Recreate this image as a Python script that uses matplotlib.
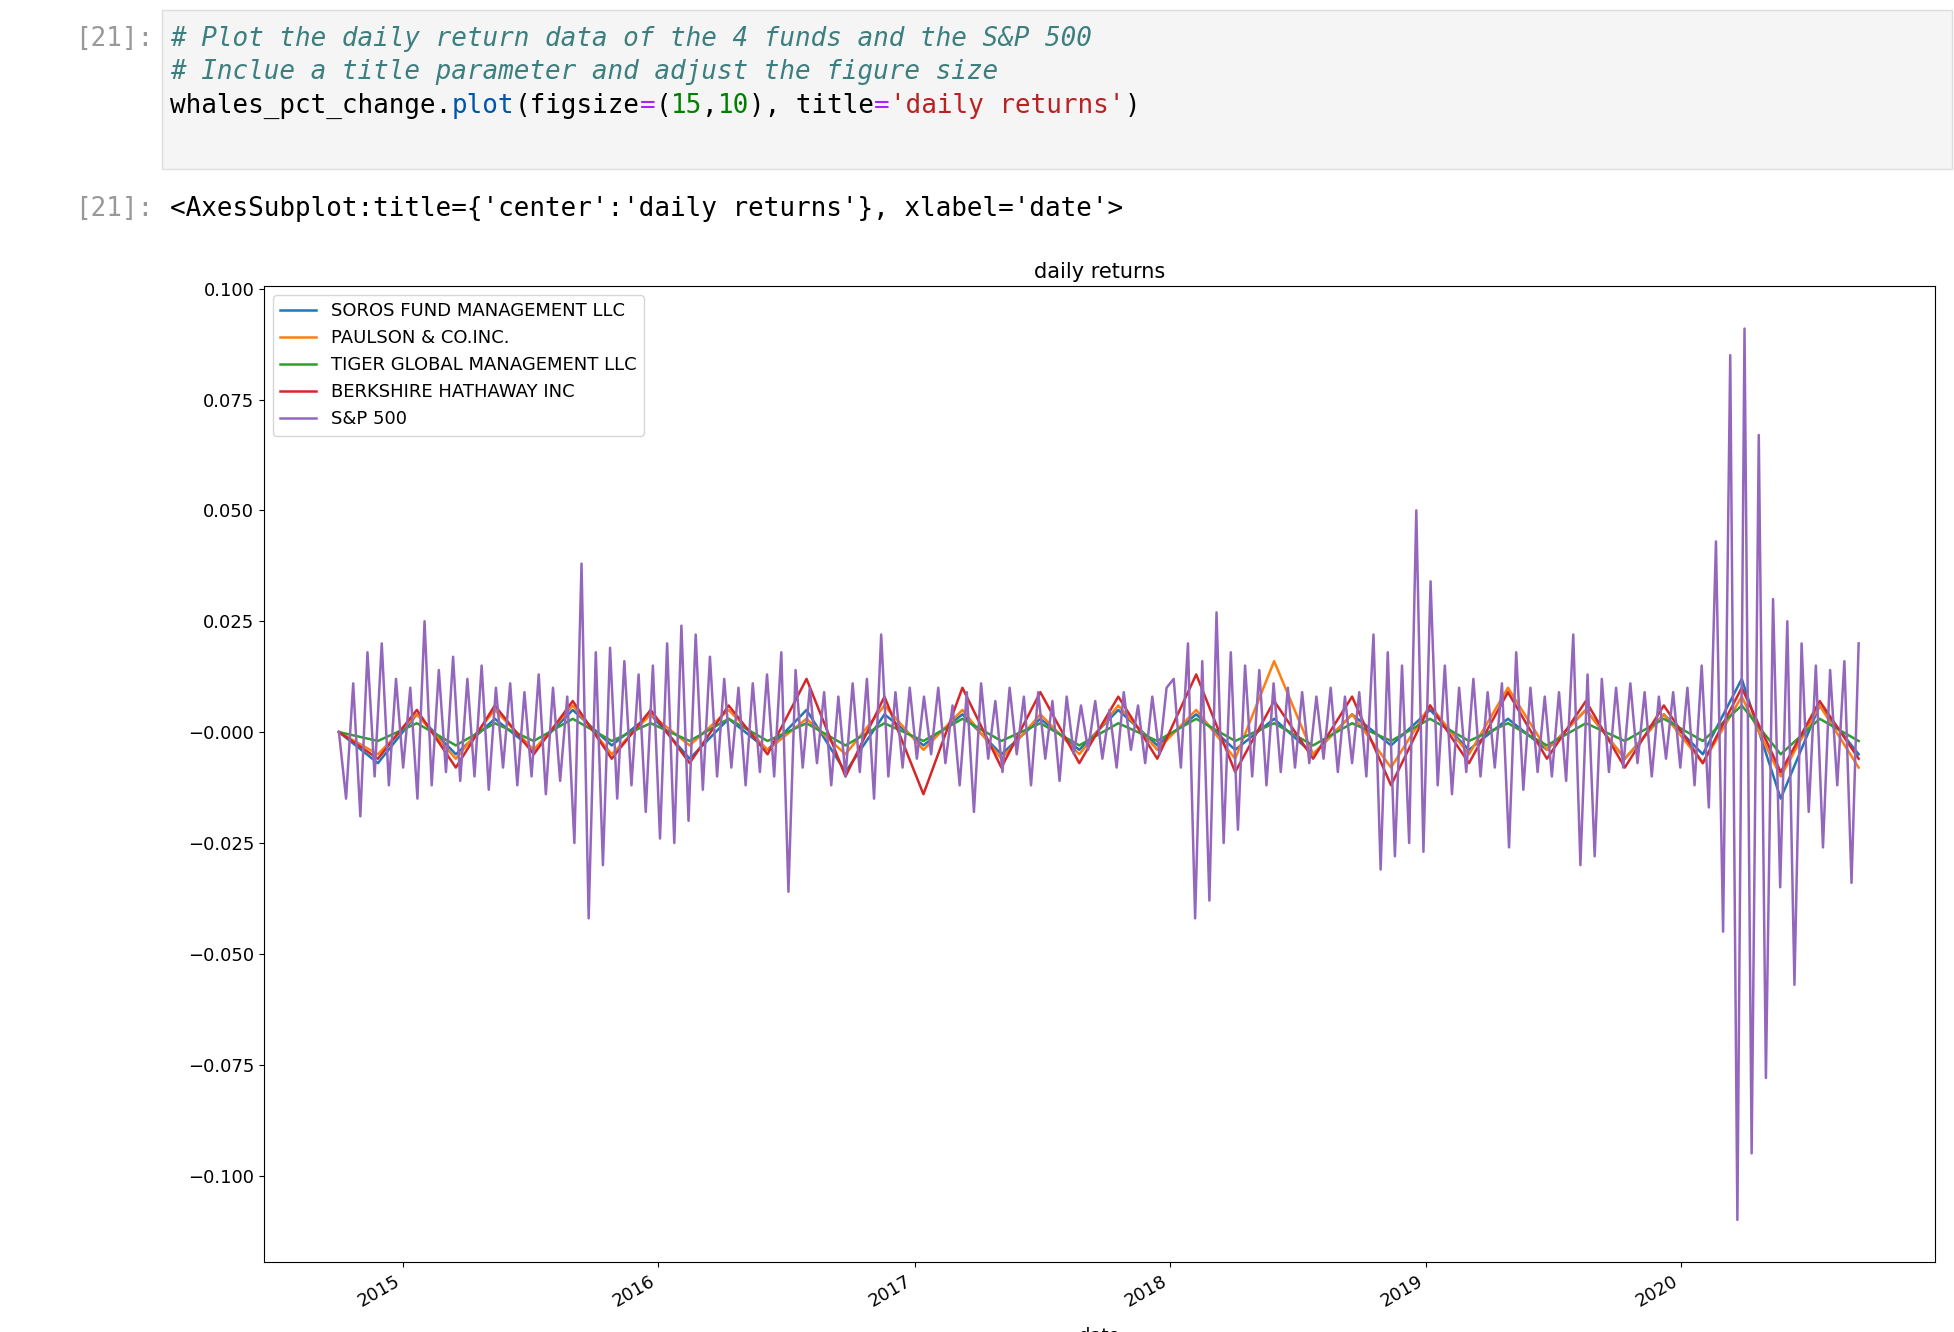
import numpy as np
import pandas as pd
import matplotlib
matplotlib.use("Agg")
import matplotlib.pyplot as plt

# --- data (coarse) ---------------------------------------------------
start, end = "2014-10-02", "2020-09-10"

sp500 = [0.000, -0.015, 0.011, -0.019, 0.018, -0.010, 0.020, -0.012, 0.012,
         -0.008, 0.010, -0.015, 0.025, -0.012, 0.014, -0.009, 0.017, -0.011, 0.012, -0.010, 0.015,
         -0.013, 0.010, -0.008, 0.011, -0.012, 0.009, -0.010, 0.013, -0.014, 0.010, -0.011, 0.008,
         -0.025, 0.038, -0.042, 0.018, -0.030, 0.019, -0.015, 0.016, -0.012, 0.013, -0.018, 0.015,
         -0.024, 0.020, -0.025, 0.024, -0.020, 0.022, -0.013, 0.017, -0.010, 0.012, -0.008, 0.010,
         -0.012, 0.011, -0.009, 0.013, -0.010, 0.018, -0.036, 0.014, -0.008, 0.010, -0.007, 0.009,
         -0.012, 0.008, -0.010, 0.011, -0.009, 0.012, -0.015, 0.022, -0.010, 0.009, -0.008, 0.010,
         -0.006, 0.008, -0.005, 0.010, -0.007, 0.006, -0.012, 0.009, -0.018, 0.011, -0.006, 0.007,
         -0.009, 0.010, -0.005, 0.008, -0.012, 0.009, -0.006, 0.007, -0.011, 0.008, -0.005, 0.006,
         -0.004, 0.007, -0.006, 0.005, -0.008, 0.009, -0.004, 0.006, -0.007, 0.008, -0.005, 0.010,
         0.012, -0.008, 0.020, -0.042, 0.016, -0.038, 0.027, -0.025, 0.018, -0.022, 0.015, -0.010,
         0.014, -0.012, 0.011, -0.009, 0.010, -0.008, 0.009, -0.007, 0.008, -0.006, 0.010, -0.009,
         0.008, -0.007, 0.009, -0.010, 0.022, -0.031, 0.018, -0.028, 0.015, -0.025, 0.050, -0.027,
         0.034, -0.012, 0.015, -0.014, 0.010, -0.009, 0.012, -0.010, 0.009, -0.008, 0.011, -0.026,
         0.018, -0.013, 0.010, -0.009, 0.008, -0.010, 0.009, -0.011, 0.022, -0.030, 0.013, -0.028,
         0.012, -0.009, 0.010, -0.008, 0.011, -0.007, 0.009, -0.010, 0.008, -0.006, 0.009, -0.008,
         0.010, -0.012, 0.015, -0.017, 0.043, -0.045, 0.085, -0.110, 0.091, -0.095, 0.067, -0.078,
         0.030, -0.035, 0.025, -0.057, 0.020, -0.018, 0.015, -0.026, 0.014, -0.012, 0.016, -0.034, 0.020]

soros = [0.000, -0.007, 0.004, -0.005, 0.003, -0.004, 0.005, -0.003, 0.004, -0.006,
         0.003, -0.004, 0.005, -0.009, 0.004, -0.003, 0.004, -0.005, 0.003, -0.004,
         0.005, -0.003, 0.004, -0.004, 0.003, -0.005, 0.004, -0.003, 0.005, -0.004,
         0.003, -0.004, 0.005, -0.006, 0.004, -0.005, 0.012, -0.015, 0.006, -0.005]
paulson = [0.000, -0.005, 0.004, -0.006, 0.005, -0.004, 0.006, -0.005, 0.004, -0.003,
           0.005, -0.004, 0.003, -0.005, 0.006, -0.004, 0.005, -0.006, 0.004, -0.005,
           0.006, -0.004, 0.005, -0.006, 0.016, -0.005, 0.004, -0.008, 0.006, -0.005,
           0.010, -0.004, 0.005, -0.006, 0.004, -0.007, 0.008, -0.010, 0.006, -0.008]
tiger = [0.000, -0.002, 0.002, -0.003, 0.002, -0.002, 0.003, -0.002, 0.002, -0.002,
         0.003, -0.002, 0.002, -0.003, 0.002, -0.002, 0.003, -0.002, 0.002, -0.003,
         0.002, -0.002, 0.003, -0.002, 0.002, -0.003, 0.002, -0.002, 0.003, -0.002,
         0.002, -0.003, 0.002, -0.002, 0.003, -0.002, 0.006, -0.005, 0.003, -0.002]
berkshire = [0.000, -0.006, 0.005, -0.008, 0.006, -0.005, 0.007, -0.006, 0.005, -0.007,
             0.006, -0.005, 0.012, -0.010, 0.008, -0.014, 0.010, -0.008, 0.009, -0.007,
             0.008, -0.006, 0.013, -0.009, 0.007, -0.006, 0.008, -0.012, 0.006, -0.007,
             0.009, -0.006, 0.007, -0.008, 0.006, -0.007, 0.010, -0.009, 0.007, -0.006]

names = ["SOROS FUND MANAGEMENT LLC", "PAULSON & CO.INC.",
         "TIGER GLOBAL MANAGEMENT LLC", "BERKSHIRE HATHAWAY INC", "S&P 500"]
series = [soros, paulson, tiger, berkshire, sp500]
colors = ["#1f77b4", "#ff7f0e", "#2ca02c", "#d62728", "#9467bd"]

# --- figure ------------------------------------------------------------
W, H = 1954, 1332
fig = plt.figure(figsize=(W / 100, H / 100), dpi=100)

# notebook cell
fig.patches.append(plt.Rectangle((162 / W, 1 - 169 / H), 1790 / W, 159 / H,
                                 transform=fig.transFigure, facecolor="#f5f5f5",
                                 edgecolor="#dddddd", lw=1))
cw = 15.65  # monospace char width in px
fs = 18.7
x0 = 170


def code_line(y, tokens):
    i = 0
    for txt, col, style in tokens:
        fig.text((x0 + i * cw) / W, 1 - y / H, txt, color=col, fontsize=fs,
                 family="DejaVu Sans Mono", style=style, va="center", ha="left")
        i += len(txt)


fig.text(75 / W, 1 - 39 / H, "[21]:", color="#999999", fontsize=fs,
         family="DejaVu Sans Mono", va="center")
com = "#3d7f7f"
code_line(39, [("# Plot the daily return data of the 4 funds and the S&P 500", com, "italic")])
code_line(72, [("# Inclue a title parameter and adjust the figure size", com, "italic")])
code_line(106, [("whales_pct_change.", "black", "normal"), ("plot", "#0055aa", "normal"),
                ("(figsize", "black", "normal"), ("=", "#aa22ff", "normal"),
                ("(", "black", "normal"), ("15", "#008000", "normal"), (",", "black", "normal"),
                ("10", "#008000", "normal"), ("), title", "black", "normal"),
                ("=", "#aa22ff", "normal"), ("'daily returns'", "#ba2121", "normal"),
                (")", "black", "normal")])
fig.text(75 / W, 1 - 209 / H, "[21]:", color="#999999", fontsize=fs,
         family="DejaVu Sans Mono", va="center")
code_line(209, [("<AxesSubplot:title={'center':'daily returns'}, xlabel='date'>", "black", "normal")])

# chart
ax = fig.add_axes([264 / W, 1 - 1262 / H, (1935 - 264) / W, (1262 - 286) / H])
for vals, name, col in zip(series, names, colors):
    idx = pd.date_range(start, end, periods=len(vals))
    ax.plot(idx, vals, color=col, lw=1.8, label=name)

ax.set_xlim(pd.Timestamp("2014-06-17"), pd.Timestamp("2020-12-28"))
ax.set_ylim(-0.1195, 0.1006)
ax.set_yticks(np.arange(-0.1, 0.101, 0.025))
ax.yaxis.set_major_formatter(matplotlib.ticker.FuncFormatter(
    lambda v, p: f"{v:.3f}".replace("-", "\u2212")))
ax.xaxis.set_major_locator(matplotlib.dates.YearLocator())
ax.xaxis.set_major_formatter(matplotlib.dates.DateFormatter("%Y"))
ax.tick_params(labelsize=13)
for lab in ax.get_xticklabels():
    lab.set_rotation(30)
    lab.set_ha("right")
ax.set_title("daily returns", fontsize=15)
ax.set_xlabel("date", fontsize=13, labelpad=12)
ax.legend(loc="upper left", fontsize=13)

fig.savefig("out.png", dpi=100)
